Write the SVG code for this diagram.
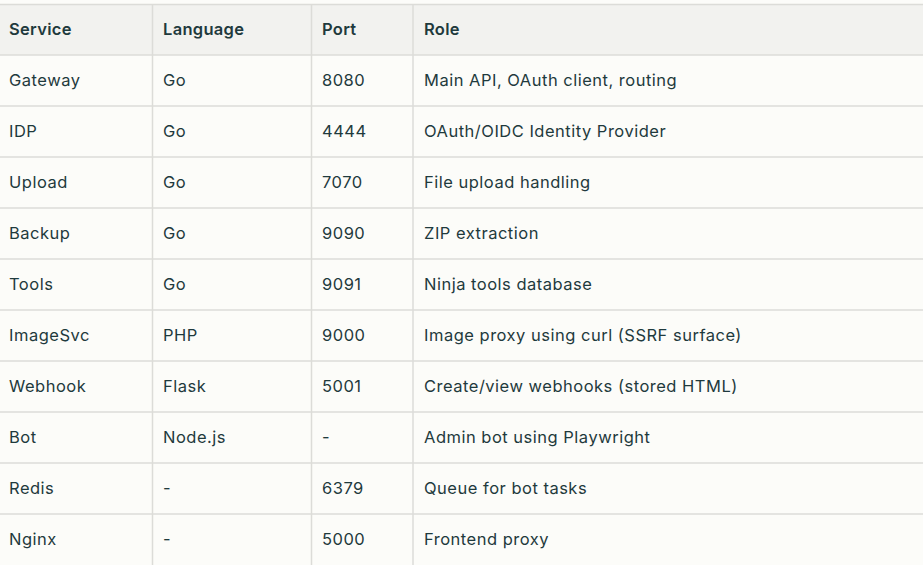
<svg xmlns="http://www.w3.org/2000/svg" width="923" height="565" viewBox="0 0 923 565">
<style>
text{font-family:"Inter","Liberation Sans",sans-serif;font-size:16.5px;letter-spacing:0.5px;fill:#1f3a3d}
.h{font-weight:600;letter-spacing:0.3px}
.l{stroke:#dcdcd8;stroke-width:1.5}
</style>
<rect width="923" height="565" fill="#fcfcf9"/>
<rect x="0" y="4" width="923" height="51" fill="#f2f2ef"/>
<g id="grid">
<line class="l" x1="0" y1="4.5" x2="923" y2="4.5"/>
<line class="l" x1="0" y1="55" x2="923" y2="55"/>
<line class="l" x1="0" y1="106" x2="923" y2="106"/>
<line class="l" x1="0" y1="157" x2="923" y2="157"/>
<line class="l" x1="0" y1="208" x2="923" y2="208"/>
<line class="l" x1="0" y1="259" x2="923" y2="259"/>
<line class="l" x1="0" y1="310" x2="923" y2="310"/>
<line class="l" x1="0" y1="361" x2="923" y2="361"/>
<line class="l" x1="0" y1="412" x2="923" y2="412"/>
<line class="l" x1="0" y1="463" x2="923" y2="463"/>
<line class="l" x1="0" y1="514" x2="923" y2="514"/>
<line class="l" x1="152.5" y1="4" x2="152.5" y2="565"/>
<line class="l" x1="311.5" y1="4" x2="311.5" y2="565"/>
<line class="l" x1="413" y1="4" x2="413" y2="565"/>
</g>
<g id="header">
<text class="h" x="9" y="35">Service</text><text class="h" x="163" y="35">Language</text><text class="h" x="322" y="35">Port</text><text class="h" x="424" y="35">Role</text>
</g>
<g id="rows">
<text x="9" y="86">Gateway</text><text x="163" y="86">Go</text><text x="322" y="86">8080</text><text x="424" y="86">Main API, OAuth client, routing</text>
<text x="9" y="137">IDP</text><text x="163" y="137">Go</text><text x="322" y="137">4444</text><text x="424" y="137">OAuth/OIDC Identity Provider</text>
<text x="9" y="188">Upload</text><text x="163" y="188">Go</text><text x="322" y="188">7070</text><text x="424" y="188">File upload handling</text>
<text x="9" y="239">Backup</text><text x="163" y="239">Go</text><text x="322" y="239">9090</text><text x="424" y="239">ZIP extraction</text>
<text x="9" y="290">Tools</text><text x="163" y="290">Go</text><text x="322" y="290">9091</text><text x="424" y="290">Ninja tools database</text>
<text x="9" y="341">ImageSvc</text><text x="163" y="341">PHP</text><text x="322" y="341">9000</text><text x="424" y="341">Image proxy using curl (SSRF surface)</text>
<text x="9" y="392">Webhook</text><text x="163" y="392">Flask</text><text x="322" y="392">5001</text><text x="424" y="392">Create/view webhooks (stored HTML)</text>
<text x="9" y="443">Bot</text><text x="163" y="443">Node.js</text><text x="322" y="443">-</text><text x="424" y="443">Admin bot using Playwright</text>
<text x="9" y="494">Redis</text><text x="163" y="494">-</text><text x="322" y="494">6379</text><text x="424" y="494">Queue for bot tasks</text>
<text x="9" y="545">Nginx</text><text x="163" y="545">-</text><text x="322" y="545">5000</text><text x="424" y="545">Frontend proxy</text>
</g>
</svg>
